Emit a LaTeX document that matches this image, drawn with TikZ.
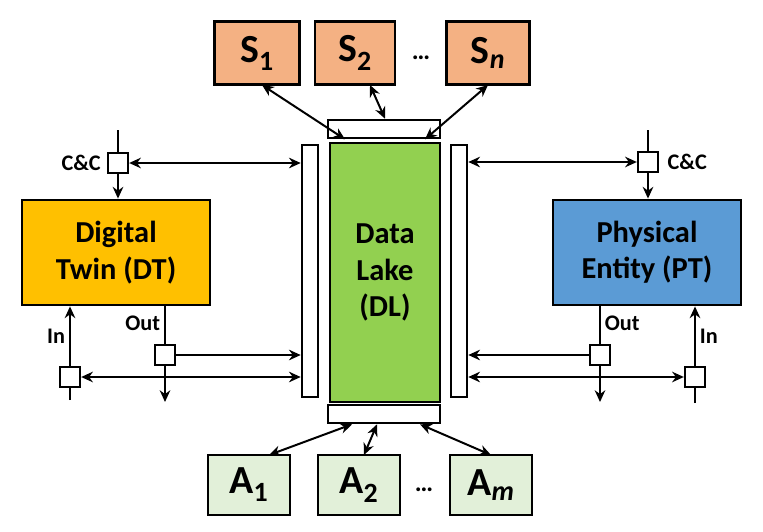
\documentclass[tikz,border=0pt]{standalone}
\usepackage{fontspec}
\setmainfont{Carlito}
\usetikzlibrary{arrows.meta,positioning}
\definecolor{salmon}{HTML}{F4B183}
\definecolor{palegreen}{HTML}{E2F0D9}
\definecolor{lakegreen}{HTML}{92D050}
\definecolor{twinorange}{HTML}{FFC000}
\definecolor{entityblue}{HTML}{5B9BD5}
\begin{document}
\begin{tikzpicture}[x=0.03cm,y=-0.03cm,line width=1.7pt,>={Stealth[length=10pt,width=9pt]}]
    \tikzset{
        blk/.style={draw=black, line width=2.4pt, font=\bfseries\fontsize{26}{31}\selectfont, align=center, inner sep=0pt},
        sa/.style={blk, font=\bfseries\fontsize{34}{38}\selectfont},
        bar/.style={draw=black, line width=2.2pt, fill=white, inner sep=0pt},
        port/.style={draw=black, line width=2pt, fill=white, minimum size=0.6cm, inner sep=0pt},
        lbl/.style={font=\bfseries\fontsize{19}{22}\selectfont}
    }
    \useasboundingbox (0,0) rectangle (763,531);

    % data lake and bars
    \node[blk, fill=lakegreen, minimum width=110*0.03cm, minimum height=259*0.03cm] (DL) at (385,272.5) {Data\\Lake\\(DL)};
    \node[bar, minimum width=16*0.03cm, minimum height=252*0.03cm] (LB) at (310,271) {};
    \node[bar, minimum width=16*0.03cm, minimum height=252*0.03cm] (RB) at (459,271) {};
    \node[bar, minimum width=112*0.03cm, minimum height=18*0.03cm] (TB) at (384,129) {};
    \node[bar, minimum width=112*0.03cm, minimum height=18*0.03cm] (BB) at (384,414) {};

    % sensors and actuators
    \node[sa, fill=salmon, minimum width=85*0.03cm, minimum height=63*0.03cm] (S1) at (257,53) {S\textsubscript{1}};
    \node[sa, fill=salmon, minimum width=80*0.03cm, minimum height=63*0.03cm] (S2) at (355,53) {S\textsubscript{2}};
    \node[sa, fill=salmon, minimum width=83*0.03cm, minimum height=63*0.03cm] (Sn) at (488,53) {S\textsubscript{\itshape n}};
    \node[font=\bfseries\fontsize{22}{24}\selectfont] (sdots) at (421,58) {\dots};
    \node[sa, fill=palegreen, minimum width=82*0.03cm, minimum height=60*0.03cm] (A1) at (249,485) {A\textsubscript{1}};
    \node[sa, fill=palegreen, minimum width=82*0.03cm, minimum height=60*0.03cm] (A2) at (359,485) {A\textsubscript{2}};
    \node[sa, fill=palegreen, minimum width=82*0.03cm, minimum height=60*0.03cm] (Am) at (491,485) {A\textsubscript{\itshape m}};
    \node[font=\bfseries\fontsize{22}{24}\selectfont] (adots) at (424,490) {\dots};

    \coordinate (s1p) at (262,85);
    \coordinate (s2p) at (370,85);
    \coordinate (snp) at (488,85);
    \coordinate (a1p) at (269,455);
    \coordinate (a2p) at (364,455);
    \coordinate (amp) at (491,455);
    \draw[<->] (s1p) -- (TB.south west -| 345,0);
    \draw[<->] (s2p) -- (TB.north -| 385,0);
    \draw[<->] (snp) -- (TB.south -| 425,0);
    \draw[<->] (a1p) -- (BB.south -| 352,0);
    \draw[<->] (a2p) -- (BB.south -| 377,0);
    \draw[<->] (amp) -- (BB.south -| 420,0);

    % digital twin
    \node[blk, fill=twinorange, minimum width=188*0.03cm, minimum height=105*0.03cm] (DT) at (116,252.5) {Digital\\Twin (DT)};
    \node[port] (dtcc) at (118,163) {};
    \node[lbl, left=1pt of dtcc] {C\&C};
    \coordinate (dtcctop) at (118,130);
    \draw (dtcctop) -- (dtcc.north);
    \draw[->] (dtcc.south) -- (DT.north -| dtcc);
    \draw[<->] (dtcc.east) -- (dtcc -| LB.west);
    \node[port] (dtin) at (70,377) {};
    \coordinate (dtinbot) at (70,400);
    \draw (dtinbot) -- (dtin.south);
    \draw[->] (dtin.north) -- (DT.south -| dtin) node[lbl, pos=0.5, left] {In};
    \draw[<->] (dtin.east) -- (dtin -| LB.west);
    \node[port] (dtout) at (165,355) {};
    \coordinate (dtoutbot) at (165,402);
    \draw (DT.south -| dtout) -- (dtout.north) node[lbl, pos=0.45, left] {Out};
    \draw[->] (dtout.south) -- (dtoutbot);
    \draw[->] (dtout.east) -- (dtout -| LB.west);

    % physical entity
    \node[blk, fill=entityblue, minimum width=188*0.03cm, minimum height=105*0.03cm] (PT) at (647,252.5) {Physical\\Entity (PT)};
    \node[port] (ptcc) at (648,162) {};
    \node[lbl, right=3pt of ptcc] {C\&C};
    \coordinate (ptcctop) at (648,130);
    \draw (ptcctop) -- (ptcc.north);
    \draw[->] (ptcc.south) -- (PT.north -| ptcc);
    \draw[<->] (ptcc.west) -- (ptcc -| RB.east);
    \node[port] (ptin) at (695,377) {};
    \coordinate (ptinbot) at (695,403);
    \draw (ptinbot) -- (ptin.south);
    \draw[->] (ptin.north) -- (PT.south -| ptin) node[lbl, pos=0.5, right] {In};
    \draw[<->] (ptin.west) -- (ptin -| RB.east);
    \node[port] (ptout) at (600,355) {};
    \coordinate (ptoutbot) at (600,402);
    \draw (PT.south -| ptout) -- (ptout.north) node[lbl, pos=0.45, right] {Out};
    \draw[->] (ptout.south) -- (ptoutbot);
    \draw[->] (ptout.west) -- (ptout -| RB.east);
\end{tikzpicture}
\end{document}
